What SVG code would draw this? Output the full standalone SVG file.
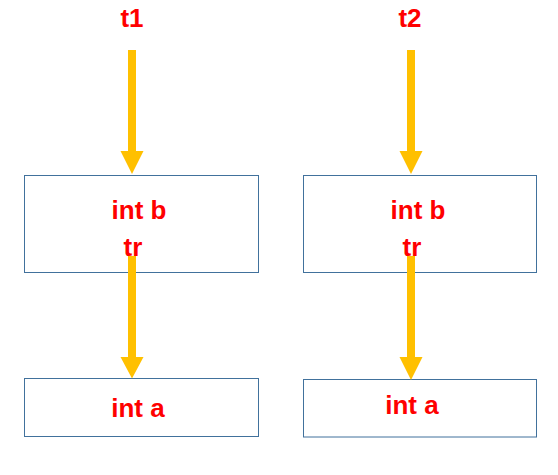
<svg xmlns="http://www.w3.org/2000/svg" width="558" height="475" viewBox="0 0 558 475">
<style>
.box{fill:#fff;stroke:#41719C;stroke-width:1}
.lbl{font-family:"Liberation Sans",Arial,sans-serif;font-weight:bold;font-size:26px;fill:#FF0000;text-anchor:middle}
.arr{fill:#FFC000}
</style>
<rect width="558" height="475" fill="#fff"/>
<g id="t1"><text class="lbl" x="132" y="27">t1</text></g>
<g id="t2"><text class="lbl" x="410" y="27">t2</text></g>
<g id="box-b1"><rect class="box" x="24.5" y="175.5" width="234" height="97"/><text class="lbl" x="139" y="219">int b</text></g>
<g id="box-b2"><rect class="box" x="303.5" y="175.5" width="233" height="97"/><text class="lbl" x="418" y="219">int b</text></g>
<g id="box-a1"><rect class="box" x="24.5" y="378.5" width="234" height="58"/><text class="lbl" x="138" y="417">int a</text></g>
<g id="box-a2"><rect class="box" x="303.5" y="379.5" width="233" height="57.5"/><text class="lbl" x="412" y="414">int a</text></g>
<g id="connectors">
<polygon class="arr" points="128,50 136,50 136,151 143.5,151 132,174 120.5,151 128,151"/>
<polygon class="arr" points="407,50 415,50 415,151 422.5,151 411,174 399.5,151 407,151"/>
<polygon class="arr" points="128,256 136,256 136,357 143.5,357 132,378.5 120.5,357 128,357"/>
<polygon class="arr" points="407,256 415,256 415,357 422.5,357 411,380 399.5,357 407,357"/>
</g>
<g id="tr1"><text class="lbl" x="133" y="256">tr</text></g>
<g id="tr2"><text class="lbl" x="412" y="256">tr</text></g>
</svg>
